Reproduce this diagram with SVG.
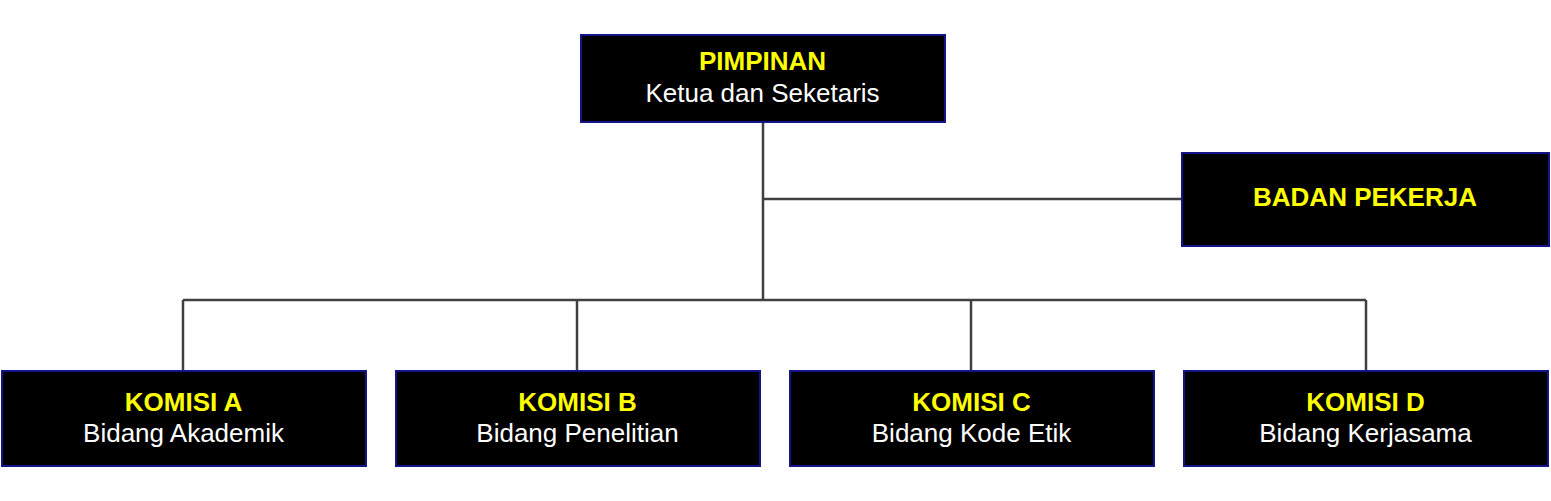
<svg xmlns="http://www.w3.org/2000/svg" width="1551" height="501" viewBox="0 0 1551 501">
<style>
.box{fill:#000;stroke:#14148a;stroke-width:2}
.t{font-family:"Liberation Sans",Arial,sans-serif;font-weight:bold;font-size:26px;fill:#ffff00;text-anchor:middle}
.s{font-family:"Liberation Sans",Arial,sans-serif;font-size:26px;fill:#ffffff;text-anchor:middle}
.c{fill:none;stroke:#404040;stroke-width:2.5}
</style>
<rect width="1551" height="501" fill="#fff"/>
<g id="connectors">
<path class="c" d="M763 122V300M763 199H1181M183 300H1366M183 300V370M577 300V370M971 300V370M1366 300V370"/>
</g>
<g id="pimpinan"><rect class="box" x="581" y="35" width="364" height="87"/><text class="t" x="762.5" y="70">PIMPINAN</text><text class="s" x="762.5" y="102">Ketua dan Seketaris</text></g>
<g id="badan"><rect class="box" x="1182" y="153" width="367" height="93"/><text class="t" x="1365" y="206">BADAN PEKERJA</text></g>
<g id="komisi-a"><rect class="box" x="2" y="371" width="364" height="95"/><text class="t" x="183.5" y="411">KOMISI A</text><text class="s" x="183.5" y="442">Bidang Akademik</text></g>
<g id="komisi-b"><rect class="box" x="396" y="371" width="364" height="95"/><text class="t" x="577.5" y="411">KOMISI B</text><text class="s" x="577.5" y="442">Bidang Penelitian</text></g>
<g id="komisi-c"><rect class="box" x="790" y="371" width="364" height="95"/><text class="t" x="971.5" y="411">KOMISI C</text><text class="s" x="971.5" y="442">Bidang Kode Etik</text></g>
<g id="komisi-d"><rect class="box" x="1184" y="371" width="364" height="95"/><text class="t" x="1365.5" y="411">KOMISI D</text><text class="s" x="1365.5" y="442">Bidang Kerjasama</text></g>
</svg>
